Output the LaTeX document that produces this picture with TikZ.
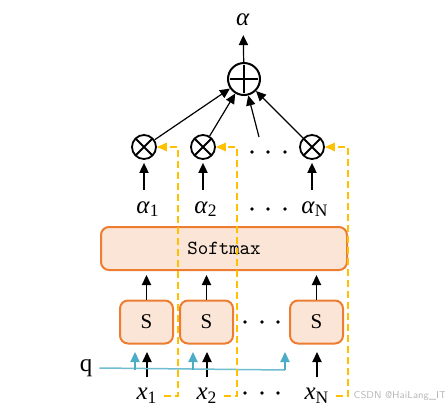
\documentclass[tikz,border=0pt]{standalone}
\usepackage{fontspec}
\setmainfont{Liberation Serif}
\usepackage{tikz}
\usetikzlibrary{arrows.meta}
\definecolor{boxline}{HTML}{ED7D31}
\definecolor{boxfill}{HTML}{FBE5D6}
\definecolor{gold}{HTML}{FFC000}
\definecolor{qblue}{HTML}{4BACC6}
\newcommand{\ital}[2]{\textit{#1}\textsubscript{#2}}
\tikzset{
  sbox/.style    = {draw=boxline, fill=boxfill, line width=1pt, rounded corners=4pt,
                    minimum width=26.5pt, minimum height=21.5pt, inner sep=0pt,
                    font=\fontsize{10.5}{12}\selectfont},
  softbox/.style = {sbox, minimum width=123pt, font=\fontsize{10}{12}\selectfont\ttfamily},
  mulnode/.style = {circle, draw, line width=0.9pt, minimum size=12pt, inner sep=0pt,
                    path picture={\draw[line width=0.9pt]
                      (path picture bounding box.north west) -- (path picture bounding box.south east)
                      (path picture bounding box.north east) -- (path picture bounding box.south west);}},
  addnode/.style = {circle, draw, line width=1pt, minimum size=16pt, inner sep=0pt,
                    path picture={\draw[line width=1pt]
                      ([xshift=1pt]path picture bounding box.west) -- ([xshift=-1pt]path picture bounding box.east)
                      ([yshift=-1pt]path picture bounding box.north) -- ([yshift=1pt]path picture bounding box.south);}},
  opar/.style    = {-{Triangle[length=5pt,width=4.6pt]}, line width=0.6pt},
  qar/.style     = {-{Triangle[length=5pt,width=4.6pt]}, qblue, line width=0.6pt},
  gdash/.style   = {-{Triangle[length=5pt,width=4.2pt]}, gold, line width=0.75pt,
                    dash pattern=on 3.5pt off 2pt},
  lbl/.style     = {font=\fontsize{12.5}{14}\selectfont}
}

\begin{document}
\begin{tikzpicture}[x=0.5pt,y=-0.5pt]
  \useasboundingbox (0,0) rectangle (445,409);
  % output
  \node[lbl] (alpha) at (243,20) {\textit{α}};
  \node[addnode] (plus) at (244,79) {};
  % products
  \node[mulnode] (o1) at (144,147) {};
  \node[mulnode] (o2) at (203,147) {};
  \node[mulnode] (oN) at (312,147) {};
  \coordinate (odots) at (259,137);
  % weights
  \node[lbl] (a1) at (148,209) {\ital{α}{1}};
  \node[lbl] (a2) at (206,209) {\ital{α}{2}};
  \node[lbl] (aN) at (315,209) {\ital{α}{N}};
  \node[softbox] (soft) at (224,248.5) {Softmax};
  % scores
  \node[sbox] (S1) at (146.5,322) {S};
  \node[sbox] (S2) at (206.5,322) {S};
  \node[sbox] (SN) at (316.5,322) {S};
  % inputs
  \node[lbl] (q) at (86,368) {q};
  \node[lbl] (x1) at (147,396) {\ital{x}{1}};
  \node[lbl] (x2) at (207,396) {\ital{x}{2}};
  \node[lbl] (xN) at (317,396) {\ital{x}{N}};
  \coordinate (q1) at (135,370);
  \coordinate (q2) at (193,370);
  \coordinate (qN) at (285,370);
  \coordinate (g1b) at (178,396); \coordinate (g1t) at (178,147);
  \coordinate (g2b) at (237,396); \coordinate (g2t) at (237,147);
  \coordinate (gNb) at (348,396); \coordinate (gNt) at (348,147);

  \foreach \x in {252,268,285} {
    \fill (\x,152) circle (0.9pt);
    \fill (\x,209) circle (0.9pt);
  }
  \foreach \x in {245,262,278} {
    \fill (\x,322) circle (0.9pt);
    \fill (\x,393) circle (0.9pt);
  }

  \draw[opar,shorten >=1pt] (plus) -- (alpha);
  \draw[opar] (o1) -- (plus);
  \draw[opar] (o2) -- (plus);
  \draw[opar] (odots) -- (plus);
  \draw[opar] (oN) -- (plus);
  \draw[opar,shorten <=2pt,shorten >=1.5pt] (o1 |- a1.north) -- (o1);
  \draw[opar,shorten <=2pt,shorten >=1.5pt] (o2 |- a2.north) -- (o2);
  \draw[opar,shorten <=2pt,shorten >=1.5pt] (oN |- aN.north) -- (oN);
  \draw[opar,shorten >=2pt] (S1) -- (S1 |- soft.south);
  \draw[opar,shorten >=2pt] (S2) -- (S2 |- soft.south);
  \draw[opar,shorten >=2pt] (SN) -- (SN |- soft.south);
  \draw[opar,shorten <=2pt,shorten >=3.75pt] (x1.north) -- (x1.north |- S1.south);
  \draw[opar,shorten <=2pt,shorten >=3.75pt] (x2.north) -- (x2.north |- S2.south);
  \draw[opar,shorten <=2pt,shorten >=3.75pt] (xN.north) -- (xN.north |- SN.south);

  \draw[qblue!80,line width=0.75pt] (q.east) -- (qN);
  \draw[qar,shorten >=3.75pt] (q1) -- (q1 |- S1.south);
  \draw[qar,shorten >=3.75pt] (q2) -- (q2 |- S2.south);
  \draw[qar,shorten >=3.75pt] (qN) -- (qN |- SN.south);

  \draw[gdash] (x1.east |- g1b) -- (g1b) -- (g1t) -- (o1.east);
  \draw[gdash] (x2.east |- g2b) -- (g2b) -- (g2t) -- (o2.east);
  \draw[gdash] (xN.east |- gNb) -- (gNb) -- (gNt) -- (oN.east);

  \node[font=\sffamily\fontsize{5}{6}\selectfont, gray!55] (mark) at (400,396) {CSDN @HaiLang\_IT};
\end{tikzpicture}
\end{document}
